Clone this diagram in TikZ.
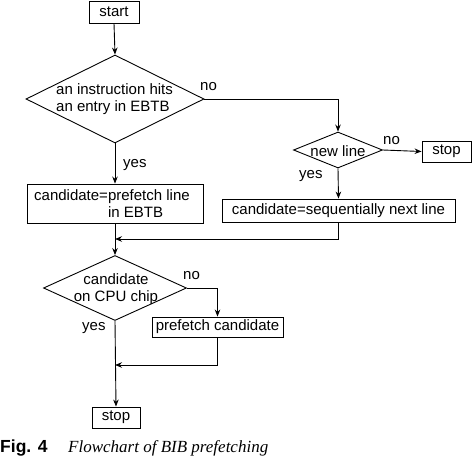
\documentclass[tikz,border=0pt]{standalone}
\usepackage{fontspec}
\setmainfont{Liberation Sans}
\newfontfamily\capserif{Liberation Serif}
\usetikzlibrary{shapes.geometric,arrows.meta}
\begin{document}
\begin{tikzpicture}[x=1pt,y=-1pt,
  every node/.style={font=\fontsize{15}{17}\selectfont},
  box/.style={draw,line width=0.9pt,inner sep=0pt},
  dia/.style={draw,diamond,line width=0.9pt,inner sep=0pt},
  lbl/.style={inner sep=0pt,anchor=base west},
  conn/.style={line width=0.9pt},
  arr/.style={conn,-{Stealth[length=7pt,width=5.5pt]}}]
\useasboundingbox (0,0) rectangle (474,460);
% boxes
\node[box,minimum width=50pt,minimum height=22pt] (start) at (114,12) {start};
\node[dia,minimum width=178pt,minimum height=88pt] (d1) at (115,99) {};
\node[inner sep=0pt,align=left,anchor=west] (t1) at (56,99) {an instruction hits\\an entry in EBTB};
\node[dia,minimum width=89pt,minimum height=36pt] (d2) at (338,150) {};
\node[inner sep=0pt] (t2) at (338,151) {new line};
\node[box,minimum width=49pt,minimum height=21pt] (stop1) at (446.5,151.5) {stop};
\node[box,minimum width=176pt,minimum height=39pt] (b1) at (115,203.5) {};
\node[inner sep=0pt,align=left,anchor=west] (t3) at (34,204) {candidate=prefetch line\\\phantom{candidate=}in EBTB};
\node[box,minimum width=233pt,minimum height=23pt] (b2) at (338.5,210.5) {candidate=sequentially next line};
\node[dia,minimum width=143pt,minimum height=65pt] (d3) at (115,288) {};
\node[inner sep=0pt,align=center] (t4) at (116,289) {candidate\\on CPU chip};
\node[box,minimum width=131pt,minimum height=20pt] (b3) at (217.5,327) {prefetch candidate};
\node[box,minimum width=48pt,minimum height=21pt] (stop2) at (116,417.5) {stop};
% merge points
\coordinate (m1) at (115,239);
\coordinate (m2) at (115,365);
% connectors
\draw[arr] (start.south) -- (d1.north);
\draw[arr] (d1.east) -| (d2.north);
\draw[arr] (d1.south) -- (b1.north);
\draw[arr] (d2.east) -- (stop1.west);
\draw[arr] (d2.south) -- (b2.north);
\draw[arr] (b2.south) |- (m1);
\draw[arr] (b1.south) -- (d3.north);
\draw[arr] (d3.east) -| (b3.north);
\draw[arr] (b3.south) |- (m2);
\draw[arr] (d3.south) -- (stop2.north);
% labels
\node[lbl] (l1) at (200,90) {no};
\node[lbl] (l2) at (123,167) {yes};
\node[lbl] (l3) at (383,144) {no};
\node[lbl] (l4) at (299,178) {yes};
\node[lbl] (l5) at (183,279) {no};
\node[lbl] (l6) at (82,330) {yes};
% caption
\node[inner sep=0pt,anchor=base west,font=\fontsize{17.5}{20}\selectfont\bfseries] (fig) at (0,452) {Fig. 4};
\node[inner sep=0pt,anchor=base west,font=\fontsize{17}{20}\selectfont\capserif\itshape] (cap) at (68,452) {Flowchart of BIB prefetching};
\end{tikzpicture}
\end{document}
